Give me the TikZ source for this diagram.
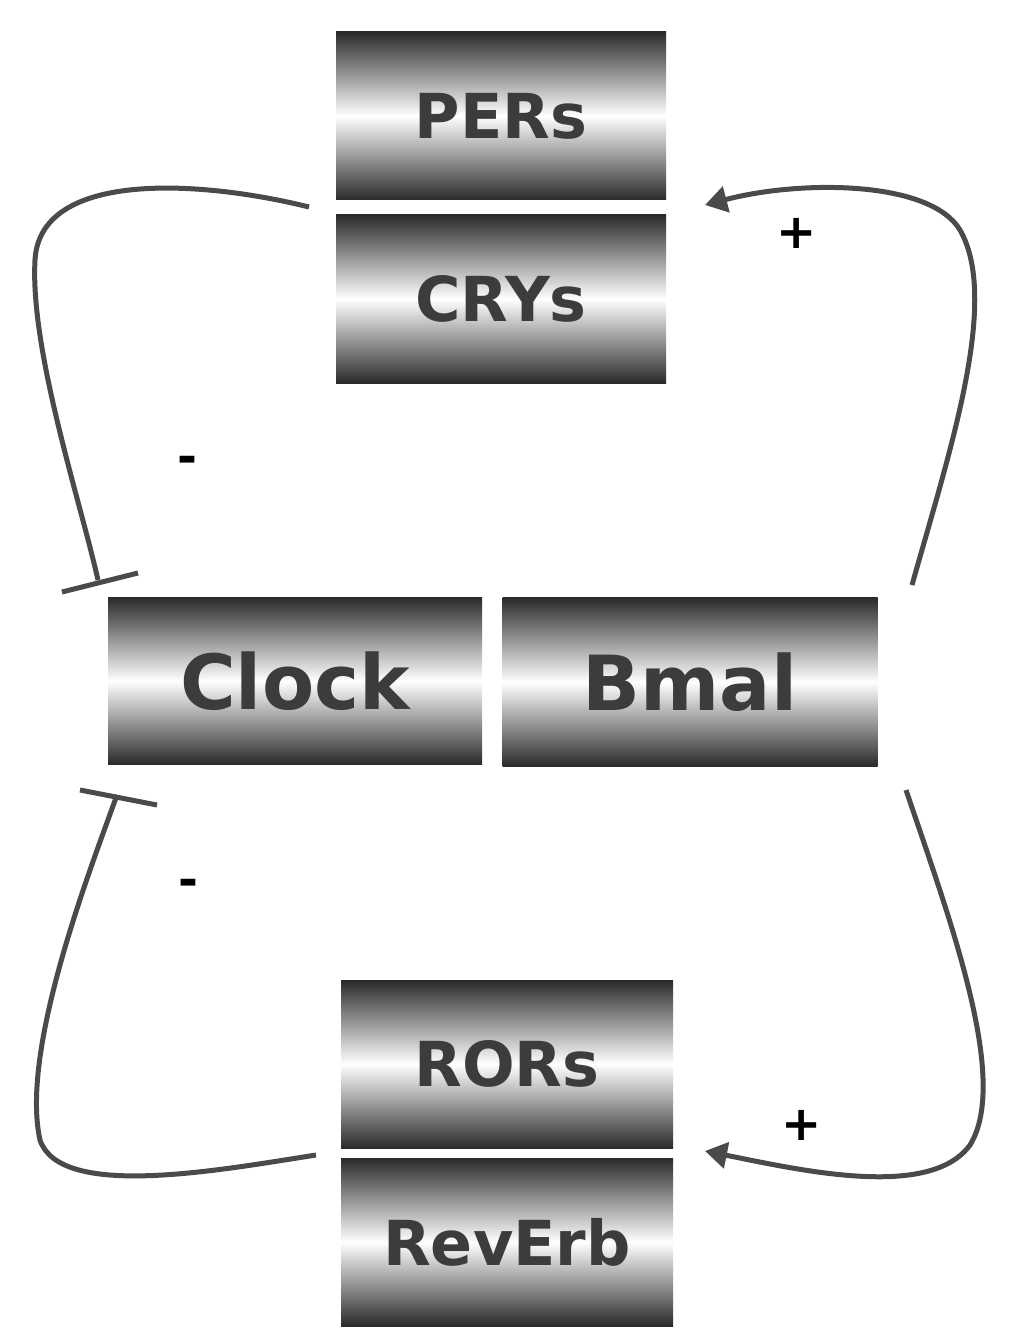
\documentclass[tikz,border=0pt]{standalone}
\usepackage{fontspec}
\setmainfont{DejaVu Sans}
\usetikzlibrary{arrows.meta}
\definecolor{txt}{HTML}{3C3C3C}
\definecolor{ln}{HTML}{4A4A4A}
\definecolor{dk}{HTML}{2A2A2A}
\begin{document}
\begin{tikzpicture}[x=1pt,y=-1pt,
  box/.style={shade,top color=dk,bottom color=dk,middle color=white,inner sep=0pt,
    font=\bfseries\fontsize{62}{62}\selectfont,text=txt},
  conn/.style={draw=ln,line width=5pt},
  sign/.style={font=\bfseries\fontsize{48}{48}\selectfont,text=black}]
\useasboundingbox (0,0) rectangle (1011,1337);
\node[box,minimum width=330pt,minimum height=168pt] (pers) at (501,116) {PERs};
\node[box,minimum width=330pt,minimum height=168pt] (crys) at (501,299) {CRYs};
\node[box,minimum width=374pt,minimum height=167pt,font=\bfseries\fontsize{76}{76}\selectfont] (clock) at (295,681) {Clock};
\node[box,minimum width=375pt,minimum height=169pt,font=\bfseries\fontsize{76}{76}\selectfont] (bmal) at (690,682) {Bmal};
\node[box,minimum width=332pt,minimum height=168pt] (rors) at (507,1064) {RORs};
\node[box,minimum width=332pt,minimum height=168pt] (reverb) at (507,1242) {RevErb};
\coordinate (a1) at (309,207);
\coordinate (a2) at (98,580);
\coordinate (b1) at (912,585);
\coordinate (b2) at (705,205);
\coordinate (c1) at (906,790);
\coordinate (c2) at (705,1151);
\coordinate (d1) at (316,1155);
\coordinate (d2) at (117,795);
\path[conn] (a1) .. controls (200,180) and (40,170) .. (35,260) .. controls (30,350) and (80,500) .. (a2);
\draw[conn] (62,592) -- (138,573);
\path[conn,-{Triangle[length=22pt,width=26pt]}] (b1) .. controls (950,450) and (1000,300) .. (960,230) .. controls (930,180) and (800,180) .. (b2);
\path[conn,-{Triangle[length=22pt,width=26pt]}] (c1) .. controls (950,920) and (1010,1080) .. (970,1145) .. controls (930,1200) and (800,1170) .. (c2);
\path[conn] (d1) .. controls (220,1170) and (60,1200) .. (40,1140) .. controls (20,1050) and (90,870) .. (d2);
\draw[conn] (80,790) -- (157,805);
\node[sign] (p1) at (797,233) {+};
\node[sign] (m1) at (187,465) {-};
\node[sign] (m2) at (188,888) {-};
\node[sign] (p2) at (802,1125) {+};
\end{tikzpicture}
\end{document}
